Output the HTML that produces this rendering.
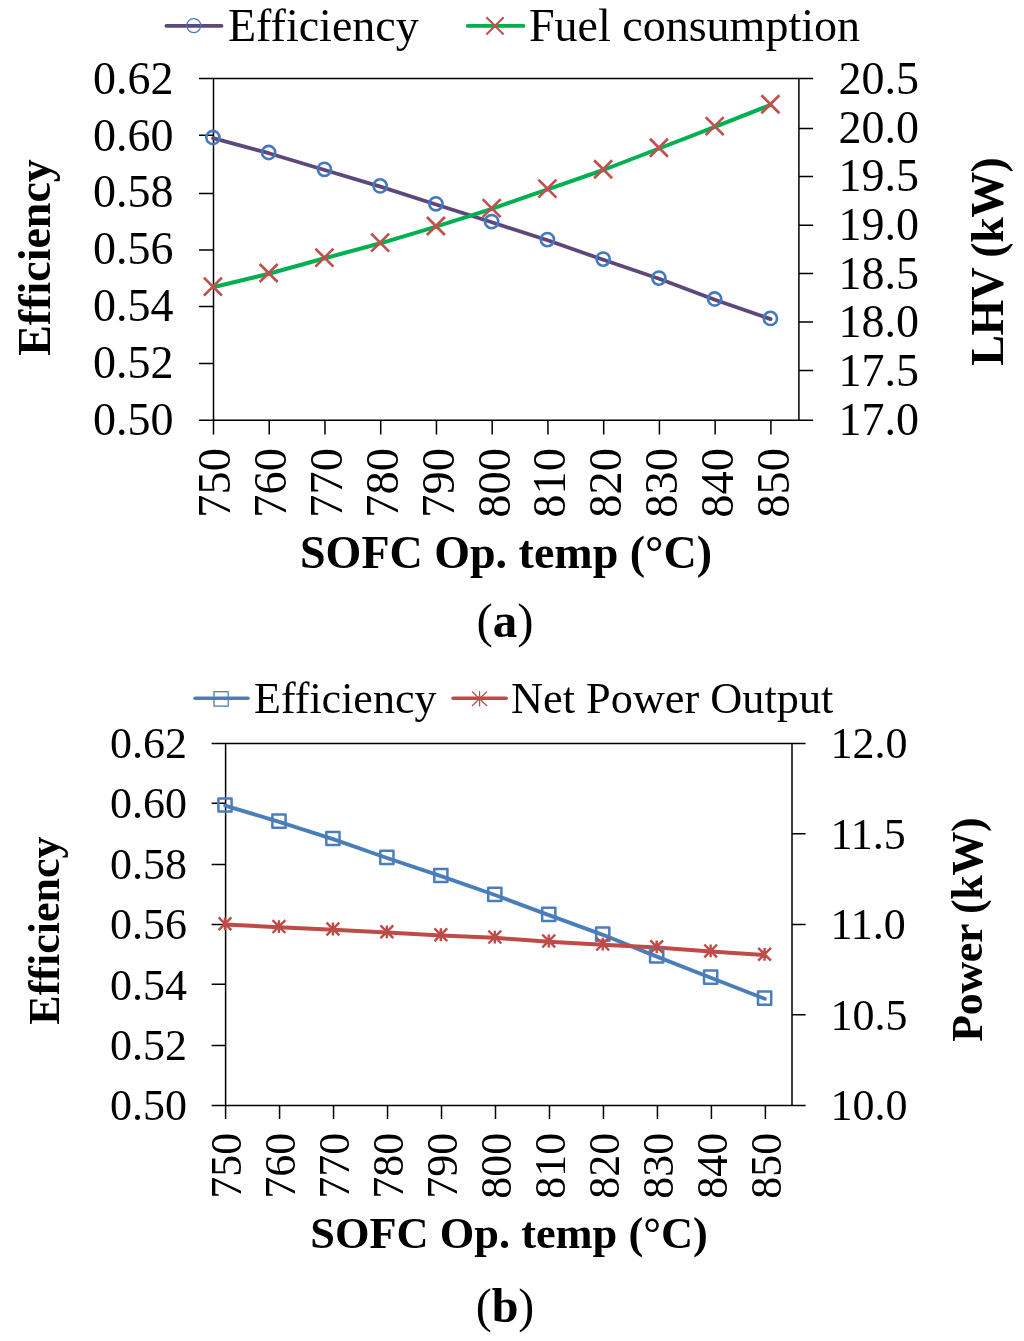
<!DOCTYPE html>
<html><head><meta charset="utf-8"><title>SOFC operating temperature charts</title>
<style>html,body{margin:0;padding:0;background:#fff;width:1024px;height:1341px;overflow:hidden}svg{display:block}text{fill:#000}</style>
</head><body>
<svg width="1024" height="1341" viewBox="0 0 1024 1341" font-family='"Liberation Serif", "Times New Roman", serif'>
<rect width="1024" height="1341" fill="#fff"/>
<path d="M199,78.5H813.1M199,420.2H813.1M213.5,78.5V434.4M798.9,78.5V420.2M199,363.6H213.5M199,306.6H213.5M199,250.1H213.5M199,193.4H213.5M199,135.3H213.5M798.9,370.5H813.1M798.9,322H813.1M798.9,273.6H813.1M798.9,225.25H813.1M798.9,176.6H813.1M798.9,128.4H813.1M269.24,420.2V434.4M324.98,420.2V434.4M380.72,420.2V434.4M436.46,420.2V434.4M492.2,420.2V434.4M547.94,420.2V434.4M603.68,420.2V434.4M659.42,420.2V434.4M715.16,420.2V434.4M770.9,420.2V434.4" stroke="#000" stroke-width="1.5" fill="none"/>
<g font-size="46"><text x="173.5" y="434.5" text-anchor="end">0.50</text><text x="173.5" y="377.73" text-anchor="end">0.52</text><text x="173.5" y="320.97" text-anchor="end">0.54</text><text x="173.5" y="264.2" text-anchor="end">0.56</text><text x="173.5" y="207.43" text-anchor="end">0.58</text><text x="173.5" y="150.67" text-anchor="end">0.60</text><text x="173.5" y="93.9" text-anchor="end">0.62</text><text x="838.5" y="434.6">17.0</text><text x="838.5" y="385.94">17.5</text><text x="838.5" y="337.29">18.0</text><text x="838.5" y="288.63">18.5</text><text x="838.5" y="239.97">19.0</text><text x="838.5" y="191.31">19.5</text><text x="838.5" y="142.66">20.0</text><text x="838.5" y="94">20.5</text></g>
<g font-size="46.3" text-anchor="end"><text transform="translate(230.2,448.2) rotate(-90)">750</text><text transform="translate(286.07,448.2) rotate(-90)">760</text><text transform="translate(341.94,448.2) rotate(-90)">770</text><text transform="translate(397.81,448.2) rotate(-90)">780</text><text transform="translate(453.68,448.2) rotate(-90)">790</text><text transform="translate(509.55,448.2) rotate(-90)">800</text><text transform="translate(565.42,448.2) rotate(-90)">810</text><text transform="translate(621.29,448.2) rotate(-90)">820</text><text transform="translate(677.16,448.2) rotate(-90)">830</text><text transform="translate(733.03,448.2) rotate(-90)">840</text><text transform="translate(788.9,448.2) rotate(-90)">850</text></g>
<polyline points="213.1,138.2 268.85,153.2 324.6,170 380.35,186.6 436.1,204.5 491.85,222.3 547.6,240.3 603.35,259.8 659.1,278.8 714.85,299.7 770.6,319.1" fill="none" stroke="#5D477B" stroke-width="3.8" stroke-linejoin="round" stroke-linecap="round"/>
<polyline points="213.1,287.3 268.85,273.7 324.6,258.3 380.35,243.3 436.1,226.7 491.85,208.8 547.6,189.3 603.35,170 659.1,148.5 714.85,126.8 770.6,104.9" fill="none" stroke="#00B050" stroke-width="4.0" stroke-linejoin="round" stroke-linecap="round"/>
<g fill="none" stroke="#4579BE" stroke-width="2.6"><circle cx="212.9" cy="137.5" r="6.6"/><circle cx="268.65" cy="152.5" r="6.6"/><circle cx="324.4" cy="169.3" r="6.6"/><circle cx="380.15" cy="185.9" r="6.6"/><circle cx="435.9" cy="203.8" r="6.6"/><circle cx="491.65" cy="221.6" r="6.6"/><circle cx="547.4" cy="239.6" r="6.6"/><circle cx="603.15" cy="259.1" r="6.6"/><circle cx="658.9" cy="278.1" r="6.6"/><circle cx="714.65" cy="299" r="6.6"/><circle cx="770.4" cy="318.4" r="6.6"/></g>
<path d="M203.9,277.6L221.9,295.6M203.9,295.6L221.9,277.6M259.65,264L277.65,282M259.65,282L277.65,264M315.4,248.6L333.4,266.6M315.4,266.6L333.4,248.6M371.15,233.6L389.15,251.6M371.15,251.6L389.15,233.6M426.9,217L444.9,235M426.9,235L444.9,217M482.65,199.1L500.65,217.1M482.65,217.1L500.65,199.1M538.4,179.6L556.4,197.6M538.4,197.6L556.4,179.6M594.15,160.3L612.15,178.3M594.15,178.3L612.15,160.3M649.9,138.8L667.9,156.8M649.9,156.8L667.9,138.8M705.65,117.1L723.65,135.1M705.65,135.1L723.65,117.1M761.4,95.2L779.4,113.2M761.4,113.2L779.4,95.2" stroke="#C0504D" stroke-width="2.7" fill="none"/>
<path d="M166.3,25.9H221.6" stroke="#5D477B" stroke-width="3.6" stroke-linecap="round"/>
<circle cx="193.8" cy="25.6" r="7" fill="none" stroke="#4579BE" stroke-width="1.3"/>
<text x="228" y="41" font-size="46">Efficiency</text>
<path d="M467.8,25.9H523.4" stroke="#00B050" stroke-width="3.8" stroke-linecap="round"/>
<path d="M486.4,17.3L503.6,34.5M486.4,34.5L503.6,17.3" stroke="#C0504D" stroke-width="2.1"/>
<text x="529" y="41" font-size="46">Fuel consumption</text>
<g font-size="46" font-weight="bold" text-anchor="middle">
<text transform="translate(49.8,257.5) rotate(-90)">Efficiency</text>
<text transform="translate(1002.9,261.4) rotate(-90)" textLength="208.7" lengthAdjust="spacing">LHV (kW)</text>
<text x="506" y="568.3">SOFC Op. temp (°C)</text>
</g>
<text x="505" y="637" text-anchor="middle" font-size="49">(<tspan font-weight="bold">a</tspan>)</text>
<path d="M211.6,743.4H805.6M211.6,1105.4H805.6M225.6,743.4V1118.9M792,743.4V1105.4M211.6,1045.55H225.6M211.6,984.28H225.6M211.6,924.45H225.6M211.6,864.55H225.6M211.6,803.35H225.6M792,1014.86H805.6M792,924.45H805.6M792,833.8H805.6M279.58,1105.4V1118.9M333.56,1105.4V1118.9M387.54,1105.4V1118.9M441.52,1105.4V1118.9M495.5,1105.4V1118.9M549.48,1105.4V1118.9M603.46,1105.4V1118.9M657.44,1105.4V1118.9M711.42,1105.4V1118.9M765.4,1105.4V1118.9" stroke="#000" stroke-width="1.5" fill="none"/>
<g font-size="44"><text x="187" y="1120.4" text-anchor="end">0.50</text><text x="187" y="1059.98" text-anchor="end">0.52</text><text x="187" y="999.57" text-anchor="end">0.54</text><text x="187" y="939.15" text-anchor="end">0.56</text><text x="187" y="878.73" text-anchor="end">0.58</text><text x="187" y="818.32" text-anchor="end">0.60</text><text x="187" y="757.9" text-anchor="end">0.62</text><text x="830.5" y="1120.3">10.0</text><text x="830.5" y="1029.7">10.5</text><text x="830.5" y="939.1">11.0</text><text x="830.5" y="848.5">11.5</text><text x="830.5" y="757.9">12.0</text></g>
<g font-size="44" text-anchor="end"><text transform="translate(240.8,1132.7) rotate(-90)">750</text><text transform="translate(294.77,1132.7) rotate(-90)">760</text><text transform="translate(348.74,1132.7) rotate(-90)">770</text><text transform="translate(402.71,1132.7) rotate(-90)">780</text><text transform="translate(456.68,1132.7) rotate(-90)">790</text><text transform="translate(510.65,1132.7) rotate(-90)">800</text><text transform="translate(564.62,1132.7) rotate(-90)">810</text><text transform="translate(618.59,1132.7) rotate(-90)">820</text><text transform="translate(672.56,1132.7) rotate(-90)">830</text><text transform="translate(726.53,1132.7) rotate(-90)">840</text><text transform="translate(780.5,1132.7) rotate(-90)">850</text></g>
<polyline points="225.2,805.7 279.16,821.8 333.12,839.2 387.08,858 441.04,876.2 495,895 548.96,915.1 602.92,934.8 656.88,956.6 710.84,977.8 764.8,998.8" fill="none" stroke="#4A7EBB" stroke-width="3.9" stroke-linejoin="round" stroke-linecap="round"/>
<polyline points="225.2,924.5 279.16,927.3 333.12,929.7 387.08,932.5 441.04,935.4 495,937.8 548.96,941.7 602.92,944.8 656.88,947.5 710.84,951.6 764.8,955" fill="none" stroke="#BE4B48" stroke-width="4.0" stroke-linejoin="round" stroke-linecap="round"/>
<g fill="none" stroke="#4A7EBB" stroke-width="2.5" stroke-linejoin="round"><rect x="218.4" y="798.4" width="13.2" height="13.2"/><rect x="272.36" y="814.5" width="13.2" height="13.2"/><rect x="326.32" y="831.9" width="13.2" height="13.2"/><rect x="380.28" y="850.7" width="13.2" height="13.2"/><rect x="434.24" y="868.9" width="13.2" height="13.2"/><rect x="488.2" y="887.7" width="13.2" height="13.2"/><rect x="542.16" y="907.8" width="13.2" height="13.2"/><rect x="596.12" y="927.5" width="13.2" height="13.2"/><rect x="650.08" y="949.3" width="13.2" height="13.2"/><rect x="704.04" y="970.5" width="13.2" height="13.2"/><rect x="758" y="991.5" width="13.2" height="13.2"/></g>
<path d="M218.6,917.4L231.4,930.2M218.6,930.2L231.4,917.4M225,917.4V930.2M272.56,920.2L285.36,933M272.56,933L285.36,920.2M278.96,920.2V933M326.52,922.6L339.32,935.4M326.52,935.4L339.32,922.6M332.92,922.6V935.4M380.48,925.4L393.28,938.2M380.48,938.2L393.28,925.4M386.88,925.4V938.2M434.44,928.3L447.24,941.1M434.44,941.1L447.24,928.3M440.84,928.3V941.1M488.4,930.7L501.2,943.5M488.4,943.5L501.2,930.7M494.8,930.7V943.5M542.36,934.6L555.16,947.4M542.36,947.4L555.16,934.6M548.76,934.6V947.4M596.32,937.7L609.12,950.5M596.32,950.5L609.12,937.7M602.72,937.7V950.5M650.28,940.4L663.08,953.2M650.28,953.2L663.08,940.4M656.68,940.4V953.2M704.24,944.5L717.04,957.3M704.24,957.3L717.04,944.5M710.64,944.5V957.3M758.2,947.9L771,960.7M758.2,960.7L771,947.9M764.6,947.9V960.7" stroke="#BE4B48" stroke-width="2.4" fill="none"/>
<path d="M195,698.3H248" stroke="#4A7EBB" stroke-width="3.4" stroke-linecap="round"/>
<rect x="214" y="691.7" width="14.2" height="14.4" fill="none" stroke="#4A7EBB" stroke-width="1.3"/>
<text x="254" y="713" font-size="44">Efficiency</text>
<path d="M453,698.3H506.2" stroke="#BE4B48" stroke-width="3.4" stroke-linecap="round"/>
<path d="M472,691.5L487,706M472,706L487,691.5M479.6,691V706.5" stroke="#BE4B48" stroke-width="1.2"/>
<text x="511" y="713" font-size="44.3">Net Power Output</text>
<g font-size="44" font-weight="bold" text-anchor="middle">
<text transform="translate(59,930.6) rotate(-90)">Efficiency</text>
<text transform="translate(982,929.5) rotate(-90)" textLength="224.4" lengthAdjust="spacing">Power (kW)</text>
<text x="509" y="1248" font-size="44.4">SOFC Op. temp (°C)</text>
</g>
<text x="505" y="1322" text-anchor="middle" font-size="48">(<tspan font-weight="bold">b</tspan>)</text>
</svg>
</body></html>
